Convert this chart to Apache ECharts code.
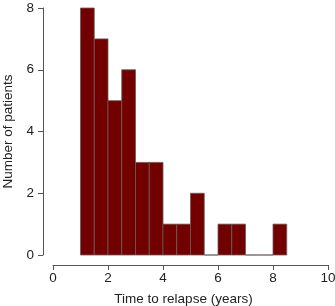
<!DOCTYPE html>
<html>
<head>
<meta charset="utf-8">
<script src="https://cdn.jsdelivr.net/npm/echarts@6/dist/echarts.min.js"></script>
<style>html,body{margin:0;padding:0;background:#fff}#c{width:335px;height:306px}</style>
</head>
<body>
<div id="c"></div>
<script>
// Histogram bins (years) and counts
var binStarts = [1, 1.5, 2, 2.5, 3, 3.5, 4, 4.5, 5, 5.5, 6, 6.5, 7, 7.5, 8];
var binWidth = 0.5;
var counts = [8, 7, 5, 6, 3, 3, 1, 1, 2, 0, 1, 1, 0, 0, 1];
var xTicks = [0, 2, 4, 6, 8, 10];
var yTicks = [0, 2, 4, 6, 8];

var data = binStarts.map(function (s, i) { return [s, s + binWidth, counts[i]]; });

var chart = echarts.init(document.getElementById('c'), null, {renderer: 'canvas'});
var font = '"Liberation Sans", Arial, sans-serif';
chart.setOption({
  animation: false,
  grid: {left: 53, right: 7, top: 8, bottom: 51, containLabel: false, outerBoundsMode: 'none'},
  xAxis: {
    type: 'value', min: 0, max: 10, interval: 2,
    offset: 10,
    name: 'Time to relapse (years)', nameLocation: 'middle', nameGap: 27,
    nameTextStyle: {fontFamily: font, fontSize: 13.5, color: '#222', padding: [0, 14, 0, 0]},
    axisLine: {show: true, onZero: false, lineStyle: {color: '#555', width: 1}},
    axisTick: {show: true, length: 5, lineStyle: {color: '#555'}},
    axisLabel: {fontFamily: font, fontSize: 13.5, color: '#222', margin: 6},
    splitLine: {show: false}
  },
  yAxis: {
    type: 'value', min: 0, max: 8, interval: 2,
    offset: 10,
    name: 'Number of patients', nameLocation: 'middle', nameGap: 28,
    nameTextStyle: {fontFamily: font, fontSize: 13.5, color: '#222'},
    axisLine: {show: true, onZero: false, lineStyle: {color: '#555', width: 1}},
    axisTick: {show: true, length: 5, lineStyle: {color: '#555'}},
    axisLabel: {fontFamily: font, fontSize: 13.5, color: '#222', margin: 9},
    splitLine: {show: false}
  },
  series: [{
    type: 'custom',
    data: data,
    encode: {x: [0, 1], y: 2},
    renderItem: function (params, api) {
      var p0 = api.coord([api.value(0), 0]);
      var p1 = api.coord([api.value(1), api.value(2)]);
      return {
        type: 'rect',
        shape: {x: p0[0], y: p1[1], width: p1[0] - p0[0], height: p0[1] - p1[1]},
        style: {fill: '#730000', stroke: '#6b5a5a', lineWidth: 0.8}
      };
    }
  }]
});
</script>
</body>
</html>
